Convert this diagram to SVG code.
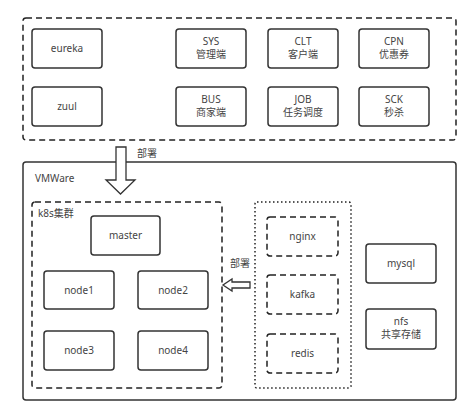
<svg xmlns="http://www.w3.org/2000/svg" width="474" height="419" viewBox="0 0 474 419">
<style>
text{font-family:"Noto Sans","Noto Sans CJK SC",sans-serif;font-size:10px;fill:#444;text-anchor:middle}
.lbl{text-anchor:start}
.box{fill:#fff;stroke:#333;stroke-width:1.5}
.dash{fill:none;stroke:#222;stroke-width:1.5;stroke-dasharray:6,4}
.dot{fill:none;stroke:#222;stroke-width:1.5;stroke-dasharray:1.5,2.5}
.arr{fill:#fff;stroke:#333;stroke-width:1.3;stroke-linejoin:miter}
</style>
<rect width="474" height="419" fill="#fff"/>
<g id="top-group"><rect class="dash" x="23" y="18" width="433" height="122" rx="3"/></g>
<g id="eureka"><rect class="box" x="32" y="29" width="70" height="39" rx="3"/><text x="67" y="52">eureka</text></g>
<g id="zuul"><rect class="box" x="32" y="87" width="70" height="39" rx="3"/><text x="67" y="110">zuul</text></g>
<g id="sys"><rect class="box" x="176" y="29" width="70" height="39" rx="3"/><text x="211" y="45">SYS</text><text x="211" y="58">管理端</text></g>
<g id="clt"><rect class="box" x="268" y="29" width="70" height="39" rx="3"/><text x="303" y="45">CLT</text><text x="303" y="58">客户端</text></g>
<g id="cpn"><rect class="box" x="359" y="29" width="70" height="39" rx="3"/><text x="394" y="45">CPN</text><text x="394" y="58">优惠券</text></g>
<g id="bus"><rect class="box" x="176" y="87" width="70" height="39" rx="3"/><text x="211" y="103">BUS</text><text x="211" y="116">商家端</text></g>
<g id="job"><rect class="box" x="268" y="87" width="70" height="39" rx="3"/><text x="303" y="103">JOB</text><text x="303" y="116">任务调度</text></g>
<g id="sck"><rect class="box" x="359" y="87" width="70" height="39" rx="3"/><text x="394" y="103">SCK</text><text x="394" y="116">秒杀</text></g>
<g id="vmware"><rect class="box" x="23" y="162" width="433" height="238" rx="3"/><text class="lbl" x="35" y="182">VMWare</text></g>
<g id="k8s"><rect class="dash" x="32" y="202" width="190" height="186" rx="3"/><text class="lbl" x="38" y="217">k8s集群</text></g>
<g id="master"><rect class="box" x="91" y="216" width="69" height="39" rx="3"/><text x="125.5" y="239">master</text></g>
<g id="node1"><rect class="box" x="44" y="271" width="70" height="38" rx="3"/><text x="79" y="294">node1</text></g>
<g id="node2"><rect class="box" x="138" y="271" width="70" height="38" rx="3"/><text x="173" y="294">node2</text></g>
<g id="node3"><rect class="box" x="44" y="331" width="70" height="39" rx="3"/><text x="79" y="354">node3</text></g>
<g id="node4"><rect class="box" x="138" y="331" width="70" height="39" rx="3"/><text x="173" y="354">node4</text></g>
<g id="middleware"><rect class="dot" x="255" y="202" width="96" height="186" rx="2"/></g>
<g id="nginx"><rect class="dash" x="267" y="217" width="71" height="39" rx="3"/><text x="302.5" y="240">nginx</text></g>
<g id="kafka"><rect class="dash" x="267" y="275" width="71" height="39" rx="3"/><text x="302.5" y="298">kafka</text></g>
<g id="redis"><rect class="dash" x="267" y="334" width="71" height="39" rx="3"/><text x="302.5" y="357">redis</text></g>
<g id="mysql"><rect class="box" x="366" y="244" width="70" height="39" rx="3"/><text x="401" y="267">mysql</text></g>
<g id="nfs"><rect class="box" x="366" y="309" width="70" height="40" rx="3"/><text x="401" y="325">nfs</text><text x="401" y="338">共享存储</text></g>
<g id="connectors">
<polygon class="arr" points="116,147 126,147 126,180 135,180 120.5,194 106,180 116,180"/>
<text class="lbl" x="137" y="157">部署</text>
<polygon class="arr" points="250,282 250,288 232,288 232,291 223,285 232,279 232,282"/>
<text class="lbl" x="230" y="267">部署</text>
</g>
</svg>
